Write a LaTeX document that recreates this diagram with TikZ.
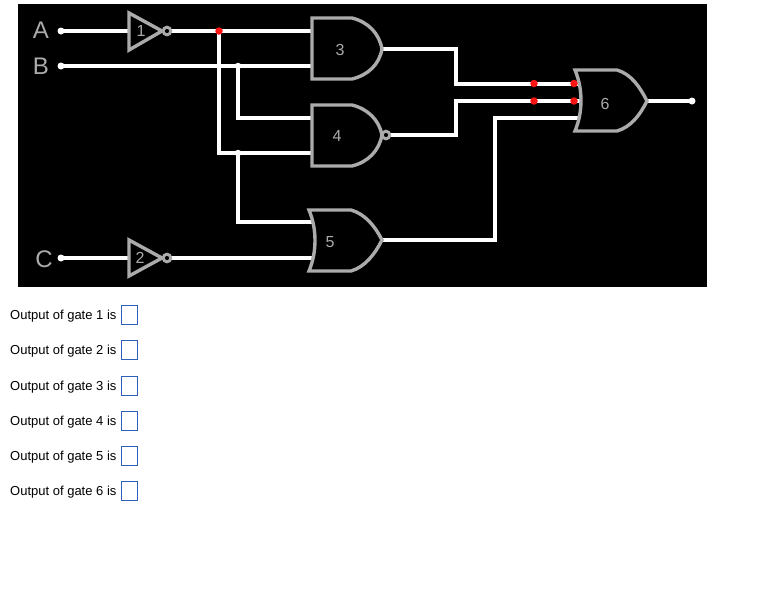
\documentclass[tikz,border=0pt]{standalone}
\usepackage{fontspec}
\setmainfont{Liberation Sans}
\definecolor{gategray}{HTML}{ABABAB}
\definecolor{boxblue}{HTML}{2F5FB8}
\definecolor{dotred}{HTML}{FF1414}
\tikzset{
  x=1pt,y=-1pt,
  wire/.style={draw=white,line width=3.1pt,line join=miter},
  gate/.style={draw=gategray,line width=3.4pt,line join=miter,fill=black},
  bubble/.style={draw=gategray,line width=2.8pt,fill=black,circle,inner sep=0pt,minimum size=7.5pt},
  pin/.style={fill=white,circle,inner sep=0pt,minimum size=7pt,outer sep=0pt},
  hot/.style={fill=dotred,circle,inner sep=0pt,minimum size=7.5pt,outer sep=0pt},
  inlabel/.style={text=gategray,font=\fontsize{24}{24}\selectfont,inner sep=0pt},
  glabel/.style={text=gategray,font=\fontsize{16}{16}\selectfont,inner sep=0pt},
  qlabel/.style={text=black,font=\fontsize{13}{15}\selectfont,inner sep=0pt,anchor=west},
  answer/.style={draw=boxblue,line width=1.2pt,fill=white,minimum width=16pt,minimum height=19pt,inner sep=0pt,outer sep=0pt}
}
\begin{document}
\begin{tikzpicture}
\useasboundingbox (0,0) rectangle (780,611);
\fill[white] (0,0) rectangle (780,611);
\fill[black] (18,4) rectangle (707,287);

% inputs and outputs
\node[pin] (a) at (61,31) {};
\node[pin] (b) at (61,66) {};
\node[pin] (c) at (61,258) {};
\node[pin] (out) at (692,101) {};
\node[inlabel] (la) at (41,30.5) {A};
\node[inlabel] (lb) at (41,66.5) {B};
\node[inlabel] (lc) at (44,259.5) {C};

% pins
\coordinate (i1) at (129,31);
\coordinate (i2) at (129,258);
\node[bubble] (n1) at (167,31) {};
\node[bubble] (n2) at (167,258) {};
\coordinate (g3a) at (313,31);
\coordinate (g3b) at (313,66);
\coordinate (g3o) at (381,49);
\coordinate (g4a) at (313,118);
\coordinate (g4b) at (313,153);
\node[bubble] (n4) at (386,135) {};
\coordinate (g5a) at (314,222);
\coordinate (g5b) at (314,258);
\coordinate (g5o) at (382,240);
\coordinate (g6a) at (579,84);
\coordinate (g6b) at (581,101);
\coordinate (g6c) at (579,118);
\coordinate (g6o) at (647,101);
\coordinate (j1) at (219,31);
\coordinate (j2) at (238,66);
\coordinate (j3) at (219,153);
\coordinate (j4) at (238,153);

% wires
\draw[wire] (a.center) -- (i1);
\draw[wire] (n1.center) -- (g3a);
\draw[wire] (b.center) -- (g3b);
\draw[wire] (c.center) -- (i2);
\draw[wire] (n2.center) -- (g5b);
\draw[wire] (j1) -- (j3) -- (g4b);
\draw[wire] (j2) |- (g4a);
\draw[wire] (j4) |- (g5a);
\draw[wire] (g3o) -- (456,49) -- (456,84) -- (g6a);
\draw[wire] (n4.center) -- (456,135) -- (456,101) -- (g6b);
\draw[wire] (g5o) -- (495,240) -- (495,118) -- (g6c);
\draw[wire] (g6o) -- (out.center);

% gates
\draw[gate] (129,13) -- (162,31) -- (129,50) -- cycle;
\draw[gate] (129,240) -- (162,258) -- (129,276) -- cycle;
\node[bubble] at (n1) {};
\node[bubble] at (n2) {};
\draw[gate] (312,18) -- (352,18) .. controls (368,22) and (379,33) .. (382,49)
  .. controls (379,65) and (368,75) .. (352,79) -- (312,79) -- cycle;
\draw[gate] (312,105) -- (352,105) .. controls (368,109) and (379,120) .. (382,135)
  .. controls (379,151) and (368,162) .. (352,166) -- (312,166) -- cycle;
\node[bubble] at (n4) {};
\draw[gate] (309,210) -- (351,210) .. controls (365,214) and (375,226) .. (382,240)
  .. controls (375,254) and (365,267) .. (351,271) -- (309,271)
  .. controls (317,252) and (317,229) .. (309,210) -- cycle;
\draw[gate] (575,70) -- (617,70) .. controls (631,74) and (640,87) .. (647,101)
  .. controls (640,115) and (631,127) .. (617,131) -- (575,131)
  .. controls (583,112) and (583,89) .. (575,70) -- cycle;

% gate numbers
\node[glabel] (t1) at (141,31) {1};
\node[glabel] (t2) at (140,258) {2};
\node[glabel] (t3) at (340,49.5) {3};
\node[glabel] (t4) at (337,135.5) {4};
\node[glabel] (t5) at (330,242.5) {5};
\node[glabel] (t6) at (605,103.5) {6};

% junctions
\node[hot] (r1) at (j1) {};
\node[pin,minimum size=6.5pt] (w1) at (j2) {};
\node[pin,minimum size=6.5pt] (w2) at (j4) {};
\node[hot] (r2) at (534,83.5) {};
\node[hot] (r3) at (574,83.5) {};
\node[hot] (r4) at (534,101) {};
\node[hot] (r5) at (574,101) {};

% questions
\foreach \n/\y in {1/315,2/350,3/386,4/421,5/456,6/491}{
  \node[qlabel] (q\n) at (10,\y+1.2) {Output of gate \n\ is};
  \node[answer] (box\n) at (129.5,\y) {};
}
\end{tikzpicture}
\end{document}
